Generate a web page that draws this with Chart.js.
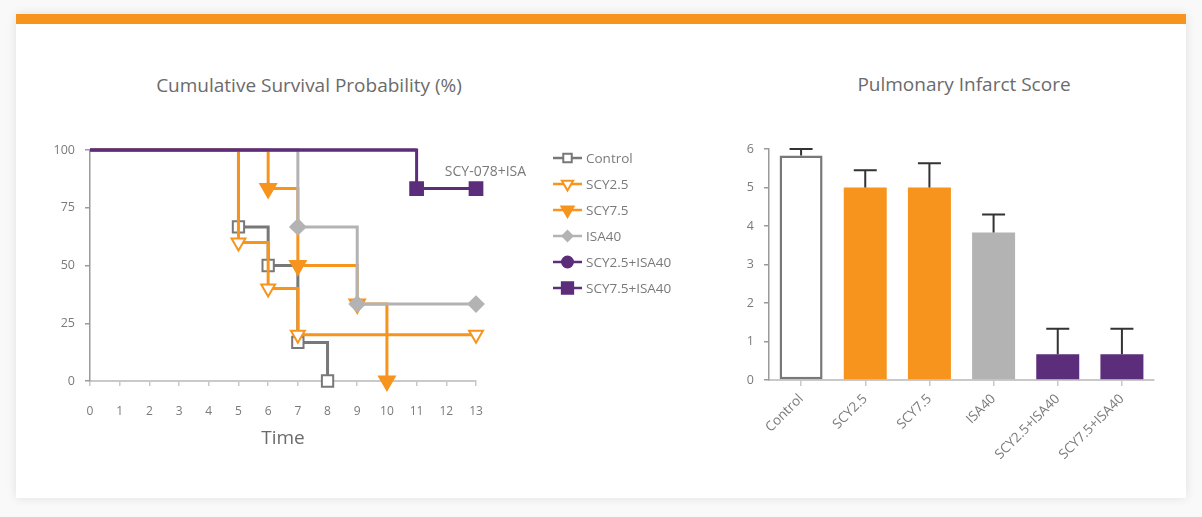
<!DOCTYPE html>
<html lang="en">
<head>
  <meta charset="UTF-8" />
  <title>Survival and Infarct Score</title>
  <script src="https://cdn.jsdelivr.net/npm/chart.js"></script>
  <style>
    * { box-sizing: border-box; margin: 0; padding: 0; }
    body {
      width: 1202px;
      height: 517px;
      background: #f9f9f9;
      font-family: 'Open Sans', sans-serif;
      position: relative;
      overflow: hidden;
    }
    .card {
      position: absolute;
      left: 16px; top: 14px;
      width: 1170px; height: 484px;
      background: #fff;
      border-top: 10px solid #f7941d;
      box-shadow: 0 0 10px rgba(0, 0, 0, 0.10);
    }
    .title {
      position: absolute;
      color: #6b6b6b;
      font-size: 19px;
      text-align: center;
      white-space: nowrap;
    }
    canvas { position: absolute; }
  </style>
</head>
<body>
  <div class="card"></div>
  <div class="title" style="left:109px; top:72px; width:400px;">Cumulative Survival Probability (%)</div>
  <div class="title" style="left:814px; top:71px; width:300px;">Pulmonary Infarct Score</div>

  <canvas id="survival" width="690" height="330" style="left:30px; top:130px;"></canvas>
  <canvas id="infarct" width="470" height="370" style="left:710px; top:130px;"></canvas>

  <script>
    // survival curves (time in days, survival in %)
    const controlTime = [0, 5, 6, 7, 8];
    const controlSurv = [100, 66.7, 50, 16.7, 0];
    const scy25Time = [0, 5, 6, 7, 13];
    const scy25Surv = [100, 60, 40, 20, 20];
    const scy75Time = [0, 6, 7, 9, 10];
    const scy75Surv = [100, 83.3, 50, 33.3, 0];
    const isa40Time = [0, 7, 9, 13];
    const isa40Surv = [100, 66.7, 33.3, 33.3];
    const scy25isaTime = [0, 11];
    const scy25isaSurv = [100, 100];
    const scy75isaTime = [0, 11, 13];
    const scy75isaSurv = [100, 83.3, 83.3];
    const comboLabel = 'SCY-078+ISA';
    const comboLabelAt = [11.95, 90.5];

    // infarct score bars
    const groups = ['Control', 'SCY2.5', 'SCY7.5', 'ISA40', 'SCY2.5+ISA40', 'SCY7.5+ISA40'];
    const scores = [5.83, 5.0, 5.0, 3.83, 0.67, 0.67];
    const scoreErrTop = [6.0, 5.45, 5.63, 4.3, 1.33, 1.33];

    const ORANGE = '#f7941d';
    const PURPLE = '#5c2d7b';
    const LIGHT = '#b3b3b3';
    const DARK = '#787878';
    const TXT = '#7a7a7a';

    const pts = (xs, ys) => xs.map((x, i) => ({ x: x, y: ys[i] }));
    const firstHidden = r => ctx => ctx.dataIndex === 0 ? 0 : r;

    function kmSet(label, xs, ys, color, style, radius, fill, order, rot) {
      return {
        label: label,
        data: pts(xs, ys),
        stepped: 'before',
        borderColor: color,
        borderWidth: 3,
        pointStyle: style,
        rotation: rot || 0,
        pointRadius: firstHidden(radius),
        pointHoverRadius: firstHidden(radius),
        pointBackgroundColor: fill,
        pointBorderColor: color,
        pointBorderWidth: 2,
        order: order,
        clip: false
      };
    }

    // lower order is drawn on top
    const kmSets = [
      kmSet('Control', controlTime, controlSurv, DARK, 'rect', 8, '#fff', 5),
      kmSet('SCY2.5', scy25Time, scy25Surv, ORANGE, 'triangle', 8, '#fff', 4, 180),
      kmSet('SCY7.5', scy75Time, scy75Surv, ORANGE, 'triangle', 9, ORANGE, 3, 180),
      kmSet('ISA40', isa40Time, isa40Surv, LIGHT, 'rectRot', 7.5, LIGHT, 2),
      kmSet('SCY2.5+ISA40', scy25isaTime, scy25isaSurv, PURPLE, 'circle', 0, PURPLE, 1),
      kmSet('SCY7.5+ISA40', scy75isaTime, scy75isaSurv, PURPLE, 'rect', 9, PURPLE, 0)
    ];

    // legend with line + marker, drawn inside the canvas
    const kmLegend = {
      id: 'kmLegend',
      afterDraw(chart) {
        const c = chart.ctx;
        const x0 = 523, x1 = 552, tx = 556;
        const legendR = [6, 6.5, 7, 5, 5.5, 8];
        c.save();
        c.font = '13.5px "Open Sans", sans-serif';
        c.textBaseline = 'middle';
        kmSets.forEach((ds, i) => {
          const y = 28 + i * 26;
          c.strokeStyle = ds.borderColor;
          c.lineWidth = 2.5;
          c.beginPath();
          c.moveTo(x0, y);
          c.lineTo(x1, y);
          c.stroke();
          c.fillStyle = ds.pointBackgroundColor;
          c.lineWidth = 2;
          Chart.helpers.drawPoint(c, {
            pointStyle: ds.pointStyle,
            rotation: ds.rotation,
            radius: legendR[i],
            borderWidth: 2
          }, (x0 + x1) / 2, y);
          c.fillStyle = TXT;
          c.fillText(ds.label, tx, y + 1);
        });
        // group annotation
        const xs = chart.scales.x, ys = chart.scales.y;
        c.font = '14px "Open Sans", sans-serif';
        c.fillText(comboLabel, xs.getPixelForValue(comboLabelAt[0]), ys.getPixelForValue(comboLabelAt[1]));
        c.restore();
      }
    };

    new Chart(document.getElementById('survival'), {
      type: 'line',
      data: { datasets: kmSets },
      options: {
        responsive: false,
        animation: false,
        layout: { padding: { top: 20, right: 244, left: 0, bottom: 0 } },
        plugins: { legend: { display: false }, tooltip: { enabled: false } },
        scales: {
          x: {
            type: 'linear',
            min: 0, max: 13,
            afterFit: s => { s.height = 79; },
            border: { display: true, color: '#c9c9c9', width: 2 },
            grid: { drawOnChartArea: false, drawTicks: true, tickLength: 5, color: '#c9c9c9', lineWidth: 1.5 },
            ticks: { stepSize: 1, color: TXT, padding: 18, font: { family: 'Open Sans', size: 12 } },
            title: { display: true, text: 'Time', color: '#6b6b6b', font: { family: 'Open Sans', size: 19 }, padding: { top: 0, bottom: 10 } }
          },
          y: {
            min: 0, max: 100,
            afterFit: s => { s.width = 60; },
            border: { display: true, color: '#9a9a9a', width: 1.5 },
            grid: { drawOnChartArea: false, drawTicks: true, tickLength: 5, color: '#9a9a9a', lineWidth: 1.5 },
            ticks: { stepSize: 25, color: TXT, padding: 10, font: { family: 'Open Sans', size: 12.5 } }
          }
        }
      },
      plugins: [kmLegend]
    });

    // error bars on top of each bar
    const errorBars = {
      id: 'errorBars',
      afterDatasetsDraw(chart) {
        const c = chart.ctx;
        const meta = chart.getDatasetMeta(0);
        const ys = chart.scales.y;
        c.save();
        c.strokeStyle = '#333';
        c.lineWidth = 2;
        meta.data.forEach((bar, i) => {
          const top = ys.getPixelForValue(scoreErrTop[i]);
          c.beginPath();
          c.moveTo(bar.x, bar.y);
          c.lineTo(bar.x, top);
          c.moveTo(bar.x - 11.5, top);
          c.lineTo(bar.x + 11.5, top);
          c.stroke();
        });
        c.restore();
      }
    };

    new Chart(document.getElementById('infarct'), {
      type: 'bar',
      data: {
        labels: groups,
        datasets: [{
          data: scores,
          backgroundColor: ['#ffffff', ORANGE, ORANGE, LIGHT, PURPLE, PURPLE],
          borderColor: [DARK, ORANGE, ORANGE, LIGHT, PURPLE, PURPLE],
          borderWidth: [2.5, 0, 0, 0, 0, 0],
          borderSkipped: false,
          categoryPercentage: 1,
          barPercentage: 0.67
        }]
      },
      options: {
        responsive: false,
        animation: false,
        layout: { padding: { top: 19, right: 26, left: 0, bottom: 0 } },
        plugins: { legend: { display: false }, tooltip: { enabled: false } },
        scales: {
          x: {
            afterFit: s => { s.height = 120; },
            border: { display: true, color: '#c9c9c9', width: 2 },
            grid: { offset: false, drawOnChartArea: false, drawTicks: true, tickLength: 6, color: '#c9c9c9', lineWidth: 1.5 },
            ticks: { color: TXT, minRotation: 45, maxRotation: 45, padding: 5, font: { family: 'Open Sans', size: 13.5 } }
          },
          y: {
            min: 0, max: 6,
            afterFit: s => { s.width = 59; },
            border: { display: true, color: '#9a9a9a', width: 1.5 },
            grid: { drawOnChartArea: false, drawTicks: true, tickLength: 5, color: '#9a9a9a', lineWidth: 1.5 },
            ticks: { stepSize: 1, color: TXT, padding: 10, font: { family: 'Open Sans', size: 12.5 } }
          }
        }
      },
      plugins: [errorBars]
    });
  </script>
</body>
</html>
